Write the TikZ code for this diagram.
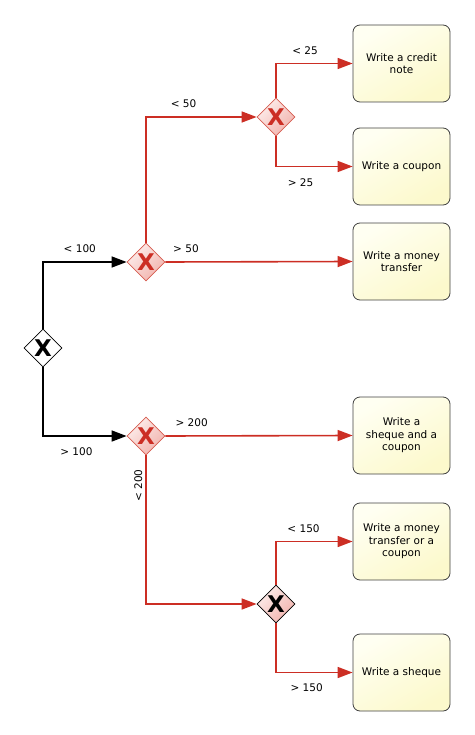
\documentclass[tikz,border=0pt]{standalone}
\usepackage{fontspec}
\setmainfont{DejaVu Sans}
\usetikzlibrary{shapes.geometric,arrows.meta}
\definecolor{flowred}{RGB}{204,46,36}
\definecolor{gateline}{RGB}{214,92,80}
\definecolor{gatelight}{RGB}{253,238,236}
\definecolor{gatedark}{RGB}{241,178,172}
\definecolor{boxlight}{RGB}{255,255,242}
\definecolor{boxdark}{RGB}{252,249,204}
\definecolor{boxline}{RGB}{64,64,64}
\begin{document}
\begin{tikzpicture}[x=1pt,y=-1pt,>={Triangle[length=15pt,width=11pt]},font=\fontsize{10.5}{12.5}\selectfont,
	gate/.style={diamond,draw=black,fill=white,line width=0.8pt,minimum width=38pt,minimum height=38pt,inner sep=0pt,font=\fontsize{23}{23}\selectfont\bfseries},
	gred/.style={draw=gateline,top color=gatelight,bottom color=gatedark,shading angle=45,text=flowred},
	gmix/.style={draw=black,top color=gatelight,bottom color=gatedark,shading angle=45},
	task/.style={rectangle,rounded corners=7pt,draw=boxline,line width=0.8pt,minimum width=97pt,minimum height=77pt,align=center,top color=boxlight,bottom color=boxdark,shading angle=30},
	flowk/.style={->,line width=1.6pt,draw=black},
	flowr/.style={->,line width=1.6pt,draw=flowred},
	lbl/.style={inner sep=3pt}]
	\useasboundingbox (0,0) rectangle (474,735);
	% gateways
	\node[gate] (root) at (43,348) {X};
	\node[gate,gred] (lo) at (146,262) {X};
	\node[gate,gred] (hi) at (146,436) {X};
	\node[gate,gred] (lo2) at (276,117) {X};
	\node[gate,gmix] (hi2) at (276,604) {X};
	% tasks
	\node[task] (credit) at (401.5,63.5) {Write a credit\\note};
	\node[task] (coupon) at (401.5,166.5) {Write a coupon};
	\node[task] (transfer) at (401.5,261.5) {Write a money\\transfer};
	\node[task] (shqcoup) at (401.5,435.5) {Write a\\sheque and a\\coupon};
	\node[task] (transcoup) at (401.5,541.5) {Write a money\\transfer or a\\coupon};
	\node[task] (sheque) at (401.5,672.5) {Write a sheque};
	% flows
	\draw[flowk] (root.north) |- (lo.west) node[lbl,pos=.72,above=5.5pt]{< 100};
	\draw[flowk] (root.south) |- (hi.west) node[lbl,pos=.70,below=7.5pt]{> 100};
	\draw[flowr] (lo.north) |- (lo2.west) node[lbl,pos=.67,above=5.5pt]{< 50};
	\draw[flowr] (lo.east) -- (transfer.west) node[lbl,pos=.11,above=5.5pt]{> 50};
	\draw[flowr] (lo2.north) |- (credit.west) node[lbl,pos=.69,above=5pt]{< 25};
	\draw[flowr] (lo2.south) |- (coupon.west) node[lbl,pos=.66,below=8pt]{> 25};
	\draw[flowr] (hi.east) -- (shqcoup.west) node[lbl,pos=.14,above=5.5pt]{> 200};
	\draw[flowr] (hi.south) |- (hi2.west) node[lbl,pos=.085,rotate=90,anchor=south,xshift=-5pt]{< 200};
	\draw[flowr] (hi2.north) |- (transcoup.west) node[lbl,pos=.68,above=5pt]{< 150};
	\draw[flowr] (hi2.south) |- (sheque.west) node[lbl,pos=.70,below=7pt]{> 150};
\end{tikzpicture}
\end{document}
